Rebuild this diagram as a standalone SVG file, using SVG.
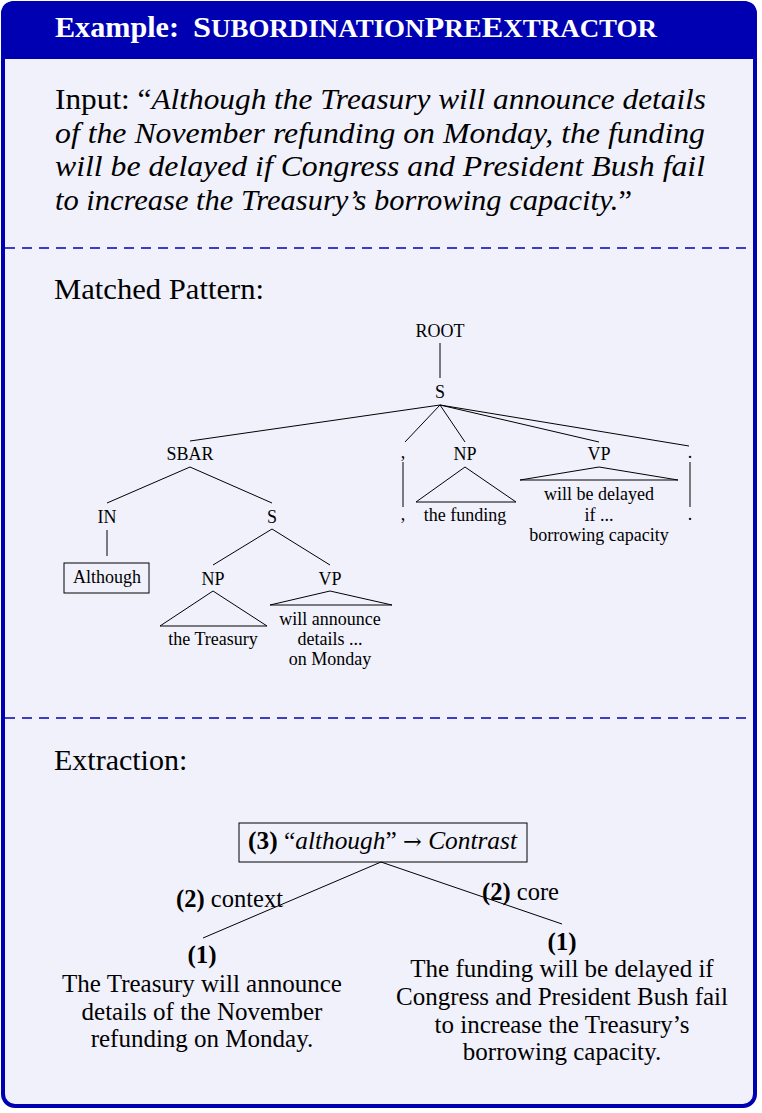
<svg xmlns="http://www.w3.org/2000/svg" width="762" height="1113" viewBox="0 0 762 1113">
<style>
.t{font-family:"Liberation Serif","Times New Roman",serif;fill:#000}
.title{font-family:"Liberation Serif","Times New Roman",serif;fill:#fff;font-weight:bold;font-size:30px}
.big{font-size:30px}
.tr{font-size:18px;text-anchor:middle}
.ex{font-size:25px}
.exm{font-size:25px;text-anchor:middle}
.b{font-weight:bold}
.i{font-style:italic}
.arr{font-family:"DejaVu Serif",serif;font-size:22px}
.ln{stroke:#000;stroke-width:1;fill:none}
.tri{stroke:#000;stroke-width:1;fill:none;stroke-linejoin:miter}
.dash{stroke:#0000b3;stroke-width:1.4;stroke-dasharray:10 7}
</style>
<g id="frame">
<rect x="3" y="3" width="752" height="1103" rx="12" ry="12" fill="#f1f1fc" stroke="#0000b3" stroke-width="4"/>
<path d="M3,57 V15 Q3,3 15,3 H743 Q755,3 755,15 V57 Z" fill="#0000b3" stroke="#0000b3" stroke-width="4"/>
<line class="dash" x1="5" y1="248" x2="753" y2="248"/>
<line class="dash" x1="5" y1="718" x2="753" y2="718"/>
</g>
<g id="title">
<text class="title" x="55" y="37" textLength="124" lengthAdjust="spacingAndGlyphs">Example:</text>
<text class="title" x="193" y="37" textLength="464" lengthAdjust="spacingAndGlyphs">S<tspan font-size="25">UBORDINATION</tspan>P<tspan font-size="25">RE</tspan>E<tspan font-size="25">XTRACTOR</tspan></text>
</g>
<g id="input">
<text class="t big" x="55" y="109" textLength="651" lengthAdjust="spacingAndGlyphs">Input: “<tspan class="i">Although the Treasury will announce details</tspan></text>
<text class="t big i" x="55" y="143" textLength="650" lengthAdjust="spacingAndGlyphs">of the November refunding on Monday, the funding</text>
<text class="t big i" x="55" y="176" textLength="650" lengthAdjust="spacingAndGlyphs">will be delayed if Congress and President Bush fail</text>
<text class="t big" x="55" y="210" textLength="577" lengthAdjust="spacingAndGlyphs"><tspan class="i">to increase the Treasury’s borrowing capacity.</tspan>”</text>
</g>
<g id="matched-label">
<text class="t big" x="54" y="299" textLength="210" lengthAdjust="spacingAndGlyphs">Matched Pattern:</text>
</g>
<g id="tree-connectors">
<line class="ln" x1="440" y1="343" x2="440" y2="378"/>
<line class="ln" x1="440" y1="405" x2="190" y2="441"/>
<line class="ln" x1="440" y1="405" x2="405" y2="442"/>
<line class="ln" x1="440" y1="405" x2="465" y2="442"/>
<line class="ln" x1="440" y1="405" x2="599" y2="442"/>
<line class="ln" x1="440" y1="405" x2="689" y2="446"/>
<line class="ln" x1="190" y1="467" x2="107" y2="503"/>
<line class="ln" x1="190" y1="467" x2="272" y2="503"/>
<line class="ln" x1="107" y1="530" x2="107" y2="556"/>
<line class="ln" x1="272" y1="529" x2="213" y2="565"/>
<line class="ln" x1="272" y1="529" x2="330" y2="565"/>
<line class="ln" x1="403" y1="462" x2="403" y2="507"/>
<line class="ln" x1="690" y1="462" x2="690" y2="507"/>
</g>
<g id="tree-nodes">
<g id="n-root"><text class="t tr" x="440" y="337">ROOT</text></g>
<g id="n-s"><text class="t tr" x="440" y="398">S</text></g>
<g id="n-sbar"><text class="t tr" x="190" y="460">SBAR</text></g>
<g id="n-in"><text class="t tr" x="107" y="523">IN</text></g>
<g id="n-although"><rect x="64" y="563" width="85" height="30" fill="none" stroke="#000" stroke-width="1"/><text class="t tr" x="107" y="583">Although</text></g>
<g id="n-s2"><text class="t tr" x="272" y="523">S</text></g>
<g id="n-np1"><text class="t tr" x="213" y="585">NP</text>
<polygon class="tri" points="213,591 160,626 267,626"/>
<text class="t tr" x="213" y="645">the Treasury</text></g>
<g id="n-vp1"><text class="t tr" x="330" y="585">VP</text>
<polygon class="tri" points="330,591 270,605 392,605"/>
<text class="t tr" x="330" y="625">will announce</text>
<text class="t tr" x="330" y="645">details ...</text>
<text class="t tr" x="330" y="665">on Monday</text></g>
<g id="n-comma"><text class="t tr" x="403" y="458">,</text><text class="t tr" x="403" y="520">,</text></g>
<g id="n-np2"><text class="t tr" x="465" y="460">NP</text>
<polygon class="tri" points="465,467 416,502 516,502"/>
<text class="t tr" x="465" y="521">the funding</text></g>
<g id="n-vp2"><text class="t tr" x="599" y="460">VP</text>
<polygon class="tri" points="599,467 520,480 678,480"/>
<text class="t tr" x="599" y="500">will be delayed</text>
<text class="t tr" x="599" y="521">if ...</text>
<text class="t tr" x="599" y="541">borrowing capacity</text></g>
<g id="n-period"><text class="t tr" x="690" y="458">.</text><text class="t tr" x="690" y="520">.</text></g>
</g>
<g id="extraction-label">
<text class="t big" x="54" y="770">Extraction:</text>
</g>
<g id="ext-connectors">
<line class="ln" x1="381" y1="862" x2="203" y2="938"/>
<line class="ln" x1="381" y1="862" x2="562" y2="924"/>
</g>
<g id="ext-root">
<rect x="239" y="823" width="288" height="39" fill="none" stroke="#000" stroke-width="1"/>
<text class="t ex" x="248" y="849" textLength="269" lengthAdjust="spacingAndGlyphs"><tspan class="b">(3)</tspan> “<tspan class="i">although</tspan>” <tspan class="arr">→</tspan> <tspan class="i">Contrast</tspan></text>
</g>
<g id="ext-edge-labels">
<text class="t ex" x="176" y="907" textLength="107" lengthAdjust="spacingAndGlyphs"><tspan class="b">(2)</tspan> context</text>
<text class="t ex" x="482" y="900" textLength="77" lengthAdjust="spacingAndGlyphs"><tspan class="b">(2)</tspan> core</text>
</g>
<g id="ext-left">
<text class="t exm b" x="202" y="963">(1)</text>
<text class="t exm" x="202" y="992">The Treasury will announce</text>
<text class="t exm" x="202" y="1020">details of the November</text>
<text class="t exm" x="202" y="1047">refunding on Monday.</text>
</g>
<g id="ext-right">
<text class="t exm b" x="562" y="950">(1)</text>
<text class="t exm" x="562" y="977">The funding will be delayed if</text>
<text class="t exm" x="562" y="1005">Congress and President Bush fail</text>
<text class="t exm" x="562" y="1033">to increase the Treasury’s</text>
<text class="t exm" x="562" y="1060">borrowing capacity.</text>
</g>
</svg>
